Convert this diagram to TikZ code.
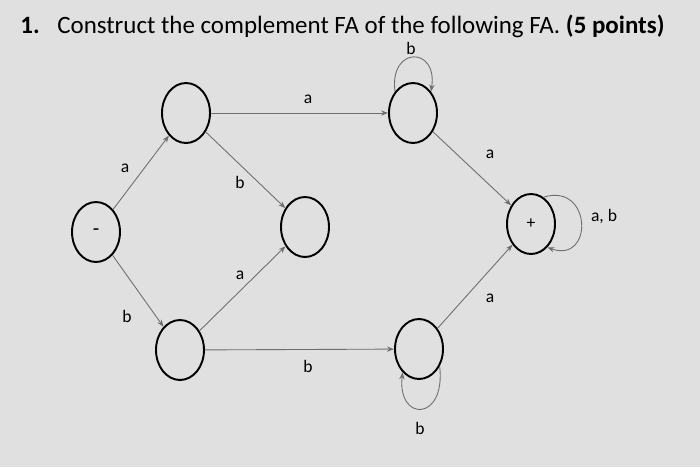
\documentclass[tikz,border=0pt]{standalone}
\usepackage{fontspec}
\setmainfont{Carlito}
\usetikzlibrary{shapes.geometric,arrows.meta}
\definecolor{paper}{RGB}{224,224,224}
\definecolor{edgegray}{RGB}{110,110,110}
\begin{document}
\begin{tikzpicture}[x=0.02cm,y=-0.02cm,
  state/.style={draw=black, line width=1.1pt, ellipse, minimum width=0.96cm, minimum height=1.2cm, inner sep=0pt, font=\fontsize{10}{11}\selectfont},
  edge/.style={draw=edgegray, line width=0.5pt, -{Stealth[length=4pt,width=3pt]}},
  lbl/.style={font=\fontsize{10}{11}\selectfont, inner sep=0pt}]
\useasboundingbox (0,0) rectangle (700,467);
\fill[paper] (0,0) rectangle (700,467);
% title
\node[anchor=base west, inner sep=0pt, font=\fontsize{14.2}{17}\selectfont\bfseries] (num) at (20,33) {1.};
\node[anchor=base west, inner sep=0pt, font=\fontsize{14.2}{17}\selectfont] (title) at (57,33) {Construct the complement FA of the following FA. \textbf{(5 points)}};
% states
\node[state, font=\fontsize{12}{13}\selectfont] (s) at (96,232) {-};
\node[state] (t1) at (186,113) {};
\node[state] (m) at (305,227) {};
\node[state] (b1) at (180,350) {};
\node[state] (t2) at (413,113) {};
\node[state] (b2) at (419,349) {};
\node[state] (f) at (531,224) {+};
% edges
\draw[edge] (s) -- (t1);
\draw[edge] (s) -- (b1);
\draw[edge] (t1) -- (m);
\draw[edge] (b1) -- (m);
\draw[edge] (t1) -- (t2);
\draw[edge] (b1) -- (b2);
\draw[edge] (t2) -- (f);
\draw[edge] (b2) -- (f);
% loops
\draw[edge] (t2.130) .. controls (389,46) and (438,46) .. (t2.50);
\draw[edge] (b2.-40) .. controls (446,422) and (397,422) .. (b2.-125);
\draw[edge] (f.65) .. controls (592,182) and (594,264) .. (f.-55);
% labels
\node[lbl] (la1) at (125,168) {a};
\node[lbl] (lb1) at (127,316) {b};
\node[lbl] (la2) at (308,99) {a};
\node[lbl] (lb2) at (240,182) {b};
\node[lbl] (la3) at (240,275) {a};
\node[lbl] (lb3) at (308,366) {b};
\node[lbl] (la4) at (490,154) {a};
\node[lbl] (la5) at (490,298) {a};
\node[lbl] (lb4) at (411,48) {b};
\node[lbl] (lb5) at (420,428) {b};
\node[lbl] (lab) at (604,217) {a, b};
\end{tikzpicture}
\end{document}
